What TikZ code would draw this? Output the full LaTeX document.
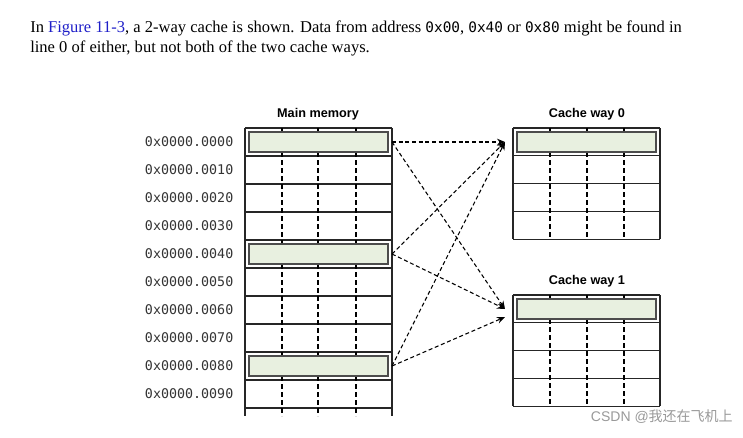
\documentclass[tikz,border=0pt]{standalone}
\usepackage{fontspec}
\setmainfont{Liberation Serif}
\newfontfamily\sansf{Liberation Sans}
\newfontfamily\monof{DejaVu Sans Mono}
\newfontfamily\cjkf{Noto Sans CJK SC}
\usetikzlibrary{arrows.meta}
\definecolor{hl}{RGB}{232,240,224}
\definecolor{figblue}{RGB}{30,30,200}
\begin{document}
\begin{tikzpicture}[x=0.75pt,y=-0.75pt,
  grid/.style={line width=0.9pt,black!85},
  col/.style={line width=0.8pt,dash pattern=on 4pt off 2pt},
  addr/.style={anchor=east,font=\monof\fontsize{10}{12}\selectfont,text=black!80},
  title/.style={font=\sansf\bfseries\fontsize{9.5}{11}\selectfont},
  conn/.style={line width=0.8pt,dash pattern=on 3pt off 2pt,-{Stealth[length=6pt,width=5pt]}}]
\useasboundingbox (0,0) rectangle (743,437);
% text
\node[anchor=base west,inner sep=0pt,font=\fontsize{12.4}{14}\selectfont] (t1) at (30,32)
 {In \textcolor{figblue}{Figure 11-3}, a 2-way cache is shown. Data from address {\monof\fontsize{10.8}{12}\selectfont 0x00}, {\monof\fontsize{10.8}{12}\selectfont 0x40} or {\monof\fontsize{10.8}{12}\selectfont 0x80} might be found in};
\node[anchor=base west,inner sep=0pt,font=\fontsize{12.4}{14}\selectfont] (t2) at (30,52)
 {line 0 of either, but not both of the two cache ways.};
% main memory
\node[title] (mt) at (318,114) {Main memory};
\foreach \i in {0,...,10} \draw[grid] (245,{128+28*\i}) -- (392,{128+28*\i});
\draw[grid] (245,128) -- (245,416) (392,128) -- (392,416);
\foreach \x in {282,318,356} \draw[col] (\x,128) -- (\x,416);
\foreach \i/\a in {0/0000,1/0010,2/0020,3/0030,4/0040,5/0050,6/0060,7/0070,8/0080,9/0090}
  \node[addr] (a\i) at (238,{142+28*\i}) {0x0000.\a};
\foreach \i in {0,4,8}
  \draw[draw=black!70,fill=hl,line width=1pt] (249,{132+28*\i}) rectangle (388,{152+28*\i});
\foreach \i in {0,4,8} \coordinate (m\i) at (392,{142+28*\i});
% cache ways
\node[title] (w0t) at (587,114) {Cache way 0};
\node[title] (w1t) at (587,281) {Cache way 1};
\foreach \t/\n in {128/0,295/1}{
  \foreach \i in {0,...,4} \draw[grid] (513,{\t+27.8*\i}) -- (660,{\t+27.8*\i});
  \draw[grid] (513,\t) -- (513,{\t+111.2}) (660,\t) -- (660,{\t+111.2});
  \foreach \x in {550,587,624} \draw[col] (\x,\t) -- (\x,{\t+111.2});
  \draw[draw=black!70,fill=hl,line width=1pt] (517,{\t+4}) rectangle (656,{\t+24});
}
\coordinate (c0) at (505,142);
\coordinate (c1a) at (505,309);
\coordinate (c1b) at (505,317);
\draw[conn] (m0) -- (c0);
\draw[conn] (m0) -- (c1a);
\draw[conn] (m4) -- (c0);
\draw[conn] (m4) -- (c1a);
\draw[conn] (m8) -- (c0);
\draw[conn] (m8) -- (c1b);
\node[anchor=base east,inner sep=0pt,text=black!40,font=\sansf\fontsize{10.5}{12}\selectfont] (wm) at (733,421) {CSDN @{\cjkf 我还在飞机上}};
\end{tikzpicture}
\end{document}
